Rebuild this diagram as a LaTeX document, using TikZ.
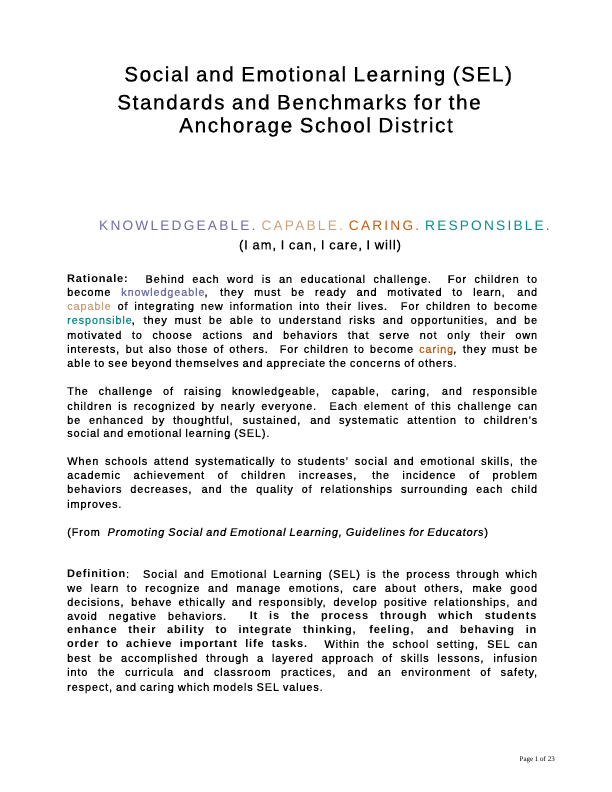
\documentclass[tikz,border=0pt]{standalone}
\usepackage{fontspec}
\setmainfont{Liberation Sans}[LetterSpace=7.5,UprightFeatures={FakeBold=0.6},ItalicFeatures={FakeBold=0.6}]
\newfontfamily\wide{Liberation Sans}[LetterSpace=16]
\newfontfamily\tnr{Liberation Serif}
\definecolor{kn}{HTML}{6E6EA6}
\definecolor{ca}{HTML}{C9A27C}
\definecolor{cr}{HTML}{C75B12}
\definecolor{rs}{HTML}{0A8C8C}
\newcommand{\J}[1]{\makebox[470pt][s]{#1}}
\newcommand{\Lf}[1]{\makebox[470pt][l]{#1}}
\tikzset{ln/.style={anchor=west,inner sep=0pt,font=\fontsize{11}{13}\selectfont}}
\begin{document}
\begin{tikzpicture}[x=1pt,y=-1pt]
\useasboundingbox (0,0) rectangle (612,792);
\fill[white] (0,0) rectangle (612,792);
\begin{scope}[every node/.style={inner sep=0pt,anchor=west,font=\fontsize{20.8}{24}\selectfont}]
\node (t1) at (124,76) {Social and Emotional Learning (SEL)};
\node (t2) at (117,102) {Standards and Benchmarks for the};
\node (t3) at (179,127) {Anchorage School District};
\end{scope}
\node[inner sep=0pt,font=\wide\fontsize{13.7}{15}\selectfont,anchor=west] (kc) at (99,226) {\textcolor{kn}{KNOWLEDGEABLE.} \textcolor{ca}{CAPABLE.} \textcolor{cr}{CARING.} \textcolor{rs}{RESPONSIBLE.}};
\node[inner sep=0pt,font=\fontsize{13}{15}\selectfont] (iam) at (320,246) {(I am, I can, I care, I will)};
\begin{scope}[every node/.style={ln}]
\node (r1) at (67,280) {\J{\textbf{Rationale:}\ \ Behind each word is an educational challenge.\ \ For children to}};
\node (r2) at (67,293) {\J{become \textcolor{kn}{knowledgeable}, they must be ready and motivated to learn, and}};
\node (r3) at (67,307) {\J{\textcolor{ca}{capable} of integrating new information into their lives.\ \ For children to become}};
\node (r4) at (67,321) {\J{\textcolor{rs}{responsible}, they must be able to understand risks and opportunities, and be}};
\node (r5) at (67,336) {\J{motivated to choose actions and behaviors that serve not only their own}};
\node (r6) at (67,350) {\J{interests, but also those of others.\ \ For children to become \textcolor{cr}{caring}, they must be}};
\node (r7) at (67,364) {\Lf{able to see beyond themselves and appreciate the concerns of others.}};
\node (p1) at (67,392) {\J{The challenge of raising knowledgeable, capable, caring, and responsible}};
\node (p2) at (67,407) {\J{children is recognized by nearly everyone.\ \ Each element of this challenge can}};
\node (p3) at (67,421) {\J{be enhanced by thoughtful, sustained, and systematic attention to children's}};
\node (p4) at (67,434) {\Lf{social and emotional learning (SEL).}};
\node (q1) at (67,462) {\J{When schools attend systematically to students' social and emotional skills, the}};
\node (q2) at (67,476) {\J{academic achievement of children increases, the incidence of problem}};
\node (q3) at (67,490) {\J{behaviors decreases, and the quality of relationships surrounding each child}};
\node (q4) at (67,505) {\Lf{improves.}};
\node (fr) at (67,533) {\Lf{(From\ \ \textit{Promoting Social and Emotional Learning, Guidelines for Educators})}};
\node (d1) at (67,575) {\J{\textbf{Definition}:\ \ Social and Emotional Learning (SEL) is the process through which}};
\node (d2) at (67,589) {\J{we learn to recognize and manage emotions, care about others, make good}};
\node (d3) at (67,603) {\J{decisions, behave ethically and responsibly, develop positive relationships, and}};
\node (d4) at (67,617) {\J{avoid negative behaviors.\ \ \textbf{It is the process through which students}}};
\node (d5) at (67,631) {\J{\textbf{enhance their ability to integrate thinking, feeling, and behaving in}}};
\node (d6) at (67,645) {\J{\textbf{order to achieve important life tasks.}\ \ Within the school setting, SEL can}};
\node (d7) at (67,659) {\J{best be accomplished through a layered approach of skills lessons, infusion}};
\node (d8) at (67,673) {\J{into the curricula and classroom practices, and an environment of safety,}};
\node (d9) at (67,688) {\Lf{respect, and caring which models SEL values.}};
\end{scope}
\node[inner sep=0pt,anchor=east,font=\tnr\fontsize{7}{8}\selectfont] (pg) at (555,760) {Page 1 of 23};
\end{tikzpicture}
\end{document}
